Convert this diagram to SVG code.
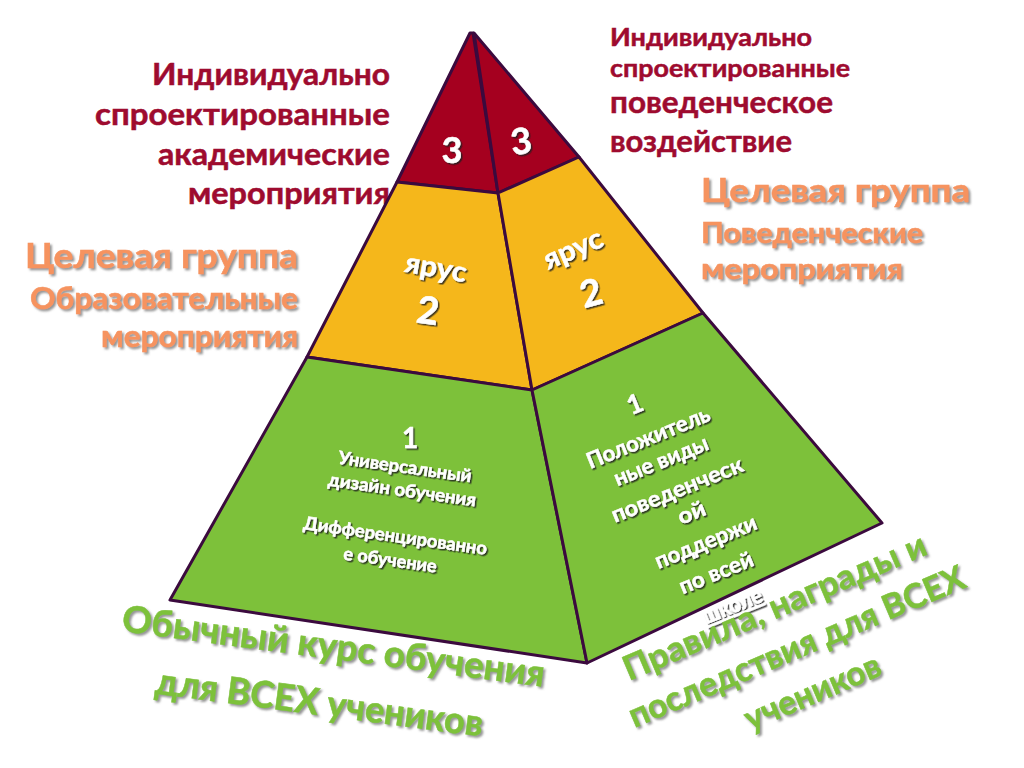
<svg xmlns="http://www.w3.org/2000/svg" width="1024" height="768" viewBox="0 0 1024 768">
<defs>
<filter id="shw" x="-20%" y="-30%" width="140%" height="160%"><feDropShadow dx="1.5" dy="1.5" stdDeviation="0.7" flood-color="#202020" flood-opacity="0.85"/></filter>
<filter id="shc" x="-10%" y="-30%" width="120%" height="160%"><feDropShadow dx="2" dy="2" stdDeviation="0.8" flood-color="#7a7a7a" flood-opacity="0.8"/></filter>
<style>
text{font-family:Lato,"Open Sans","Noto Sans",sans-serif;font-weight:bold;stroke-width:0.5;}
.red{fill:#9E0B2F;stroke:#9E0B2F;}
.org{fill:#F6935F;stroke:#F6935F;}
.grn{fill:#7DC13A;stroke:#7DC13A;}
.wht{fill:#FFFFFF;stroke:#FFFFFF;}
.face{stroke:#3B0A3E;stroke-width:3;stroke-linejoin:round;}
.t3{fill:#A5001F;}
.t2{fill:#F5B71B;}
.t1{fill:#7DC13A;}
</style>
</defs>
<rect width="1024" height="768" fill="#FFFFFF"/>

<g id="label-left-academic" class="red" font-size="30" text-anchor="end">
<text x="390" y="85" textLength="238" lengthAdjust="spacingAndGlyphs">Индивидуально</text>
<text x="390" y="125" textLength="295" lengthAdjust="spacingAndGlyphs">спроектированные</text>
<text x="390" y="165" textLength="232" lengthAdjust="spacingAndGlyphs">академические</text>
<text x="390" y="204" textLength="202" lengthAdjust="spacingAndGlyphs">мероприятия</text>
</g>

<g id="label-right-behavior" class="red">
<text x="610" y="46" font-size="25" textLength="202" lengthAdjust="spacingAndGlyphs">Индивидуально</text>
<text x="610" y="77" font-size="25" textLength="240" lengthAdjust="spacingAndGlyphs">спроектированные</text>
<text x="610" y="113" font-size="30" textLength="223" lengthAdjust="spacingAndGlyphs">поведенческое</text>
<text x="610" y="152" font-size="30" textLength="182" lengthAdjust="spacingAndGlyphs">воздействие</text>
</g>

<g id="label-left-target" class="org" filter="url(#shc)" text-anchor="end">
<text x="298" y="268" font-size="34" textLength="273" lengthAdjust="spacingAndGlyphs">Целевая группа</text>
<text x="298" y="309" font-size="31" textLength="268" lengthAdjust="spacingAndGlyphs">Образовательные</text>
<text x="298" y="347" font-size="31" textLength="197" lengthAdjust="spacingAndGlyphs">мероприятия</text>
</g>

<g id="label-right-target" class="org" filter="url(#shc)">
<text x="701" y="202" font-size="33" textLength="269" lengthAdjust="spacingAndGlyphs">Целевая группа</text>
<text x="701" y="243" font-size="29" textLength="222" lengthAdjust="spacingAndGlyphs">Поведенческие</text>
<text x="701" y="279" font-size="29" textLength="202" lengthAdjust="spacingAndGlyphs">мероприятия</text>
</g>

<g id="tier3-left">
<polygon class="face t3" points="470,33 397,182 498,193 473,33"/>
<g filter="url(#shw)"><text class="wht" x="452" y="163" font-size="36" text-anchor="middle">3</text></g>
</g>
<g id="tier3-right">
<polygon class="face t3" points="474,33 498,193 579,157"/>
<g filter="url(#shw)"><text class="wht" font-size="36" text-anchor="middle" transform="translate(521,141) rotate(-8)" y="13">3</text></g>
</g>

<g id="tier2-left">
<polygon class="face t2" points="397,182 307,357 532,390 498,193"/>
<g filter="url(#shw)" class="wht" text-anchor="middle">
<text font-size="28" transform="translate(435,273) rotate(10)" y="4" textLength="62" lengthAdjust="spacingAndGlyphs">ярус</text>
<text font-size="38" transform="translate(428,311) rotate(8)" y="13">2</text>
</g>
</g>
<g id="tier2-right">
<polygon class="face t2" points="498,193 532,390 703,313 579,157"/>
<g filter="url(#shw)" class="wht" text-anchor="middle">
<text font-size="28" transform="translate(575,254) rotate(-23)" y="4" textLength="62" lengthAdjust="spacingAndGlyphs">ярус</text>
<text font-size="37" transform="translate(591,293) rotate(-15)" y="13">2</text>
</g>
</g>

<g id="tier1-left">
<polygon class="face t1" points="307,357 170,600 587,663 532,390"/>
<g filter="url(#shw)" class="wht" text-anchor="middle">
<text font-size="28" x="410" y="448">1</text>
<text font-size="18" transform="translate(405,467) rotate(8)" y="6" textLength="134" lengthAdjust="spacingAndGlyphs">Универсальный</text>
<text font-size="18" transform="translate(402,491) rotate(8)" y="5" textLength="149" lengthAdjust="spacingAndGlyphs">дизайн обучения</text>
<text font-size="18" transform="translate(395,538) rotate(8)" y="4" textLength="185" lengthAdjust="spacingAndGlyphs">Дифференцированно</text>
<text font-size="18" transform="translate(390,561) rotate(8)" y="5" textLength="94" lengthAdjust="spacingAndGlyphs">е обучение</text>
</g>
</g>
<g id="tier1-right">
<polygon class="face t1" points="532,390 587,663 882,523 703,313"/>
<g filter="url(#shw)" class="wht" text-anchor="middle">
<text font-size="26" transform="translate(635,404) rotate(-22)" y="9">1</text>
<text font-size="22" transform="translate(648,437) rotate(-22)" y="8" textLength="131" lengthAdjust="spacingAndGlyphs">Положитель</text>
<text font-size="22" transform="translate(662,463) rotate(-22)" y="5" textLength="100" lengthAdjust="spacingAndGlyphs">ные виды</text>
<text font-size="22" transform="translate(678,492) rotate(-22)" y="5" textLength="140" lengthAdjust="spacingAndGlyphs">поведенческ</text>
<text font-size="22" transform="translate(692,514) rotate(-22)" y="6" textLength="28" lengthAdjust="spacingAndGlyphs">ой</text>
<text font-size="22" transform="translate(707,545) rotate(-22)" y="4" textLength="108" lengthAdjust="spacingAndGlyphs">поддержи</text>
<text font-size="22" transform="translate(717,575) rotate(-22)" y="5" textLength="78" lengthAdjust="spacingAndGlyphs">по всей</text>
<text font-size="22" transform="translate(733,607) rotate(-22)" y="6" textLength="62" lengthAdjust="spacingAndGlyphs" text-decoration="underline">школе</text>
</g>
</g>

<g id="label-bottom-left" class="grn" filter="url(#shc)" text-anchor="middle">
<text font-size="37" transform="translate(333,650) rotate(7.5)" y="9" textLength="426" lengthAdjust="spacingAndGlyphs">Обычный курс обучения</text>
<text font-size="37" transform="translate(319,706) rotate(7.5)" y="9" textLength="330" lengthAdjust="spacingAndGlyphs">для ВСЕХ учеников</text>
</g>

<g id="label-bottom-right" class="grn" filter="url(#shc)" text-anchor="middle">
<text font-size="34" transform="translate(776,610) rotate(-23)" y="8" textLength="326" lengthAdjust="spacingAndGlyphs">Правила, награды и</text>
<text font-size="34" transform="translate(798,650) rotate(-23)" y="8" textLength="362" lengthAdjust="spacingAndGlyphs">последствия для ВСЕХ</text>
<text font-size="34" transform="translate(815,698) rotate(-23)" y="5" textLength="145" lengthAdjust="spacingAndGlyphs">учеников</text>
</g>

<g id="connectors"></g>
</svg>
